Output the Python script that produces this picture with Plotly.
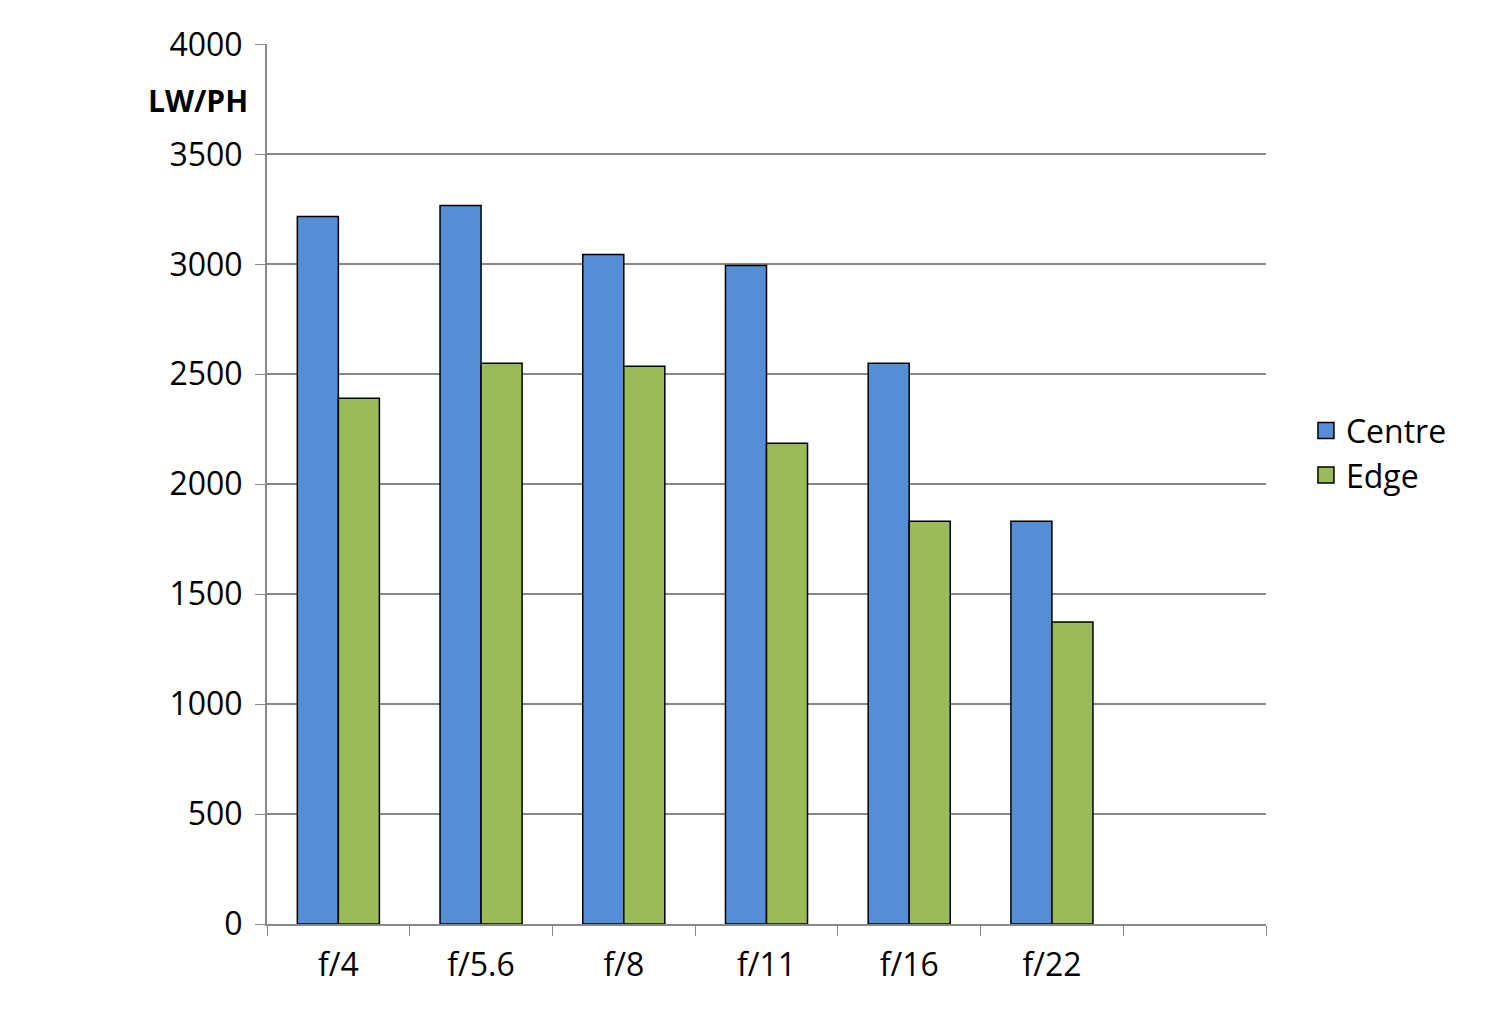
import plotly.graph_objects as go

categories = ["f/4", "f/5.6", "f/8", "f/11", "f/16", "f/22", " "]
centre = [3218, 3268, 3045, 2995, 2550, 1832, None]
edge = [2391, 2550, 2536, 2186, 1832, 1373, None]

blue, green = "#558ed5", "#9bbb59"
fig = go.Figure()
fig.add_bar(x=categories, y=centre, name="Centre", showlegend=False,
            marker=dict(color=blue, line=dict(color="black", width=1.5)))
fig.add_bar(x=categories, y=edge, name="Edge", showlegend=False,
            marker=dict(color=green, line=dict(color="black", width=1.5)))
for nm, c in (("Centre", blue), ("Edge", green)):
    fig.add_scatter(x=[None], y=[None], mode="markers", name=nm,
                    marker=dict(symbol="square", size=26, color=c, line=dict(color="black", width=1.5)))
fig.update_layout(
    width=1500, height=1023, paper_bgcolor="white", plot_bgcolor="white",
    margin=dict(l=259, r=242, t=36, b=107),
    barmode="group", bargap=0.425, bargroupgap=0,
    font=dict(family="Open Sans", size=30, color="black"),
    legend=dict(x=1.04, y=0.535, yanchor="middle", xanchor="left", font=dict(size=32), tracegroupgap=14),
    xaxis=dict(type="category", categoryorder="array", categoryarray=categories, tickson="boundaries",
               ticks="outside", ticklen=10, tickcolor="#888", showline=True, linecolor="#888", linewidth=2,
               tickfont=dict(size=32), ticklabelstandoff=12),
    yaxis=dict(range=[0, 4002], tickvals=list(range(0, 4001, 500)), showgrid=True, gridcolor="#888", gridwidth=1.5,
               ticks="outside", ticklen=10, tickcolor="#888", showline=True, linecolor="#888", linewidth=2,
               zeroline=False, tickfont=dict(size=32), ticklabelstandoff=6),
    annotations=[dict(text="<b>LW/PH</b>", xref="paper", yref="y", x=-0.017, y=3745, xanchor="right",
                      yanchor="middle", showarrow=False, font=dict(size=30))],
)
fig.write_html("out.html")
